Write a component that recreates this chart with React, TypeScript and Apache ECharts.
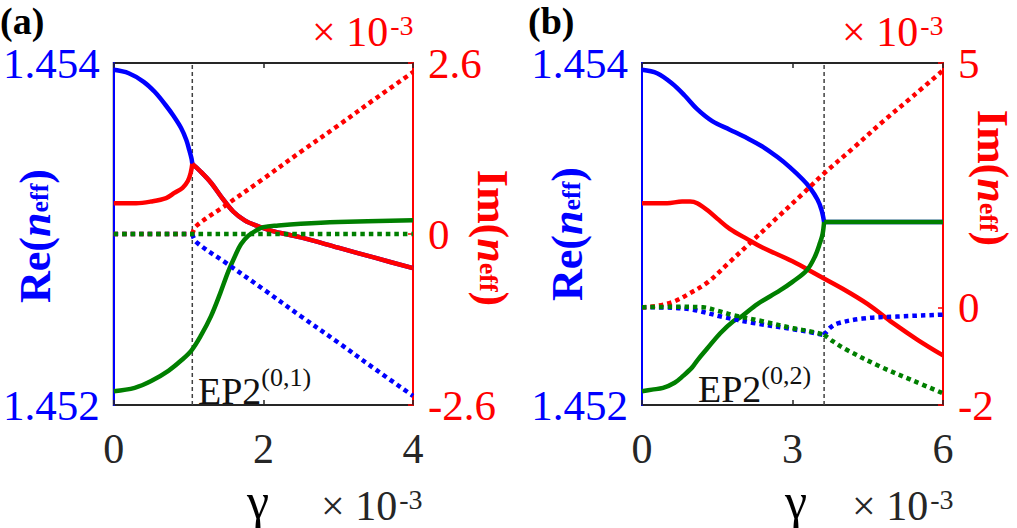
import React, { useEffect, useRef } from 'react';
import * as echarts from 'echarts';

const BLUE = '#0000ff';
const RED = '#ff0000';
const GREEN = '#007f00';
const INK = '#262626';
const SERIF = 'Liberation Serif';

// γ is given in units of 1e-3 on both x axes
const aGammaMax = 4;
const aGammaStep = 2;
const bGammaMax = 6;
const bGammaStep = 3;
const reTicks = [1.452, 1.454];
const aImTicks = [-2.6, 0, 2.6];
const bImTicks = [-2, 0, 5];

// ---- panel (a): EP2(0,1) ----
const aEP = 1.05;
const aBlueRe = [[0, 1.45396], [0.2, 1.45394], [0.4, 1.45389], [0.55, 1.45383], [0.7, 1.45375], [0.8, 1.45369], [0.9, 1.45362], [0.97, 1.45355], [1.01, 1.45349], [1.04, 1.45344], [1.05, 1.45341]];
const aRedRe = [[0, 1.45318], [0.3, 1.45318], [0.5, 1.45319], [0.7, 1.45321], [0.81, 1.45324], [0.92, 1.45327], [0.99, 1.45331], [1.03, 1.45336], [1.05, 1.45341]];
const aPairRe = [[1.05, 1.45341], [1.15, 1.45337], [1.3, 1.4533], [1.45, 1.45321], [1.6, 1.45313], [1.75, 1.45308], [1.9, 1.45305], [2.1, 1.45302], [2.5, 1.45298], [3, 1.45292], [3.5, 1.45286], [4, 1.4528]];
const aGreenRe = [[0, 1.45208], [0.28, 1.4521], [0.5, 1.45214], [0.73, 1.4522], [0.9, 1.45226], [1.04, 1.45232], [1.17, 1.45241], [1.3, 1.45252], [1.42, 1.45265], [1.53, 1.45278], [1.62, 1.45287], [1.7, 1.45294], [1.8, 1.45299], [1.9, 1.45302], [2.0, 1.45304], [2.2, 1.45305], [2.5, 1.45306], [3, 1.45307], [4, 1.45308]];
const aPairImBefore = [[0, 0], [1.05, 0]];
const aRedImAfter = [[1.05, 0], [1.1, 0.12], [1.5, 0.44], [2, 0.84], [2.5, 1.25], [3, 1.65], [3.5, 2.06], [4, 2.46]];
const aBlueImAfter = [[1.05, 0], [1.1, -0.12], [1.5, -0.44], [2, -0.84], [2.5, -1.25], [3, -1.65], [3.5, -2.06], [4, -2.46]];
const aGreenIm = [[0, 0], [4, 0]];

// ---- panel (b): EP2(0,2) ----
const bEP = 3.63;
const bBlueRe = [[0, 1.45396], [0.3, 1.45394], [0.6, 1.45388], [0.85, 1.45381], [1.1, 1.45373], [1.4, 1.45366], [1.75, 1.45361], [2.1, 1.45356], [2.41, 1.45351], [2.7, 1.45345], [2.95, 1.45339], [3.2, 1.45332], [3.35, 1.45327], [3.5, 1.4532], [3.58, 1.45314], [3.63, 1.45307]];
const bGreenRe = [[0, 1.45208], [0.2, 1.45209], [0.42, 1.4521], [0.65, 1.45213], [0.82, 1.45217], [1.0, 1.45222], [1.1, 1.45226], [1.3, 1.45233], [1.56, 1.45242], [1.82, 1.45249], [1.95, 1.45251], [2.3, 1.45259], [2.75, 1.45267], [3.0, 1.45272], [3.29, 1.45279], [3.45, 1.45287], [3.55, 1.45295], [3.6, 1.453], [3.63, 1.45307]];
const bPairRe = [[3.63, 1.45307], [4.2, 1.45307], [5, 1.45307], [6, 1.45307]];
const bRedRe = [[0, 1.45318], [0.5, 1.45318], [0.8, 1.45319], [0.96, 1.45319], [1.1, 1.45318], [1.3, 1.45314], [1.5, 1.45309], [1.75, 1.45303], [2.1, 1.45297], [2.41, 1.45292], [3.0, 1.45284], [3.5, 1.45276], [4.0, 1.45268], [4.5, 1.45259], [5.0, 1.45248], [5.5, 1.45238], [6.0, 1.45229]];
const bRedIm = [[0, 0], [0.3, 0.03], [0.62, 0.11], [0.96, 0.29], [1.32, 0.52], [1.72, 0.9], [2.2, 1.36], [2.7, 1.84], [3.2, 2.32], [3.63, 2.74], [4.2, 3.25], [4.8, 3.8], [5.4, 4.32], [6, 4.85]];
const bGreenImBefore = [[0, 0], [0.62, 0.01], [1.22, 0], [1.5, -0.07], [1.82, -0.16], [2.42, -0.29], [3.01, -0.43], [3.3, -0.48], [3.63, -0.56]];
const bGreenImAfter = [[3.63, -0.56], [3.81, -0.7], [4.08, -0.87], [4.74, -1.21], [5.4, -1.5], [6, -1.76]];
const bBlueImBefore = [[0, 0], [0.6, -0.01], [1.02, -0.05], [1.62, -0.2], [2.22, -0.32], [2.95, -0.44], [3.3, -0.5], [3.63, -0.57]];
const bBlueImAfter = [[3.63, -0.57], [3.75, -0.42], [3.9, -0.33], [4.4, -0.23], [5.08, -0.19], [6, -0.15]];

function curve(data: number[][], color: string, xi: number, yi: number, dotted = false) {
  return {
    type: 'line',
    xAxisIndex: xi,
    yAxisIndex: yi,
    data,
    symbol: 'none',
    showSymbol: false,
    silent: true,
    smooth: 0.35,
    lineStyle: { color, width: 4.5, type: dotted ? [4.5, 4] : 'solid', cap: 'butt', join: 'round' },
  };
}

function epLine(ep: number, xi: number, yi: number) {
  return {
    type: 'line',
    xAxisIndex: xi,
    yAxisIndex: yi,
    data: [[ep, reTicks[0]], [ep, reTicks[1]]],
    symbol: 'none',
    silent: true,
    lineStyle: { color: '#404040', width: 1.5, type: [4, 3] },
  };
}

function gammaAxis(gridIndex: number, max: number, step: number, top = false) {
  return {
    type: 'value',
    gridIndex,
    min: 0,
    max,
    interval: step,
    position: top ? 'top' : 'bottom',
    axisLine: { show: false, onZero: false },
    axisTick: { show: true, inside: true, length: 5, lineStyle: { color: INK, width: 1.5 } },
    axisLabel: { show: !top, color: INK, fontSize: 42, fontFamily: SERIF, margin: 23 },
    splitLine: { show: false },
  };
}

function reAxis(gridIndex: number) {
  return {
    type: 'value',
    gridIndex,
    position: 'left',
    min: reTicks[0],
    max: reTicks[1],
    axisLine: { show: true, onZero: false, lineStyle: { color: BLUE, width: 2 } },
    axisTick: { show: false },
    splitLine: { show: false },
    axisLabel: {
      customValues: reTicks,
      formatter: (v: number) => v.toFixed(3),
      color: BLUE,
      fontSize: 43,
      fontFamily: SERIF,
      margin: 14,
      padding: [10, 0, 0, 0],
    },
  };
}

function imAxis(gridIndex: number, ticks: number[]) {
  return {
    type: 'value',
    gridIndex,
    position: 'right',
    min: ticks[0],
    max: ticks[ticks.length - 1],
    axisLine: { show: true, onZero: false, lineStyle: { color: RED, width: 2 } },
    axisTick: { show: true, inside: true, length: 5, customValues: ticks, lineStyle: { color: RED, width: 1.5 } },
    splitLine: { show: false },
    axisLabel: {
      customValues: ticks,
      formatter: (v: number) => String(v),
      color: RED,
      fontSize: 43,
      fontFamily: SERIF,
      margin: 15,
      padding: [10, 0, 0, 0],
    },
  };
}

function text(x: number, y: number, content: string, rich: any, extra: any = {}) {
  return {
    type: 'text',
    x,
    y,
    rotation: extra.rotation || 0,
    silent: true,
    z: 100,
    style: {
      text: content,
      rich,
      fontFamily: SERIF,
      fontSize: 40,
      fill: extra.fill || INK,
      align: extra.align || 'left',
      verticalAlign: extra.verticalAlign || 'top',
    },
  };
}

function exponentLabel(x: number, y: number, fill: string) {
  return text(x, y, '{m|× 10}{s|-3}', {
    m: { fontSize: 42, fontFamily: SERIF, fill, lineHeight: 42, verticalAlign: 'bottom' },
    s: { fontSize: 28, fontFamily: SERIF, fill, lineHeight: 14, verticalAlign: 'top', padding: [0, 0, 0, 2] },
  }, { fill });
}

function neffLabel(x: number, y: number, head: string, fill: string, rotation: number) {
  return text(x, y, `{a|${head}(}{n|n}{s|eff}{a|)}`, {
    a: { fontSize: 44, fontFamily: SERIF, fontWeight: 'bold', fill, lineHeight: 34 },
    n: { fontSize: 44, fontFamily: SERIF, fontWeight: 'bold', fontStyle: 'italic', fill, lineHeight: 34 },
    s: { fontSize: 26, fontFamily: SERIF, fontWeight: 'bold', fill, lineHeight: 10, verticalAlign: 'bottom' },
  }, { fill, rotation, align: 'center', verticalAlign: 'middle' });
}

function epLabel(x: number, y: number, sup: string) {
  return text(x, y, `{m|EP2}{s|${sup}}`, {
    m: { fontSize: 38, fontFamily: SERIF, fill: '#111', lineHeight: 46, verticalAlign: 'bottom' },
    s: { fontSize: 26, fontFamily: SERIF, fill: '#111', lineHeight: 26, verticalAlign: 'top' },
  });
}

function plain(x: number, y: number, content: string, size: number, bold: boolean, align = 'left', lineHeight = size) {
  return text(x, y, `{t|${content}}`, {
    t: { fontSize: size, fontFamily: SERIF, fontWeight: bold ? 'bold' : 'normal', fill: '#000', lineHeight },
  }, { align, verticalAlign: 'middle' });
}

export default function App() {
  const ref = useRef<HTMLDivElement>(null);

  useEffect(() => {
    if (!ref.current) return;
    const chart = echarts.init(ref.current, undefined, { renderer: 'svg' });
    const gridBox = { top: 63, width: 301, height: 342, show: true, borderColor: INK, borderWidth: 2, backgroundColor: 'transparent' };

    const option = {
      animation: false,
      backgroundColor: '#ffffff',
      textStyle: { fontFamily: SERIF },
      grid: [
        { ...gridBox, left: 112 },
        { ...gridBox, left: 642 },
      ],
      xAxis: [
        gammaAxis(0, aGammaMax, aGammaStep),
        gammaAxis(1, bGammaMax, bGammaStep),
        gammaAxis(0, aGammaMax, aGammaStep, true),
        gammaAxis(1, bGammaMax, bGammaStep, true),
      ],
      yAxis: [reAxis(0), imAxis(0, aImTicks), reAxis(1), imAxis(1, bImTicks)],
      series: [
        // panel (a)
        epLine(aEP, 0, 0),
        curve(aBlueRe, BLUE, 0, 0),
        curve(aPairRe, BLUE, 0, 0),
        curve(aRedRe, RED, 0, 0),
        curve(aPairRe, RED, 0, 0),
        curve(aGreenRe, GREEN, 0, 0),
        curve(aPairImBefore, BLUE, 0, 1, true),
        curve(aBlueImAfter, BLUE, 0, 1, true),
        curve(aPairImBefore, RED, 0, 1, true),
        curve(aRedImAfter, RED, 0, 1, true),
        curve(aGreenIm, GREEN, 0, 1, true),
        // panel (b)
        epLine(bEP, 1, 2),
        curve(bBlueRe, BLUE, 1, 2),
        curve(bPairRe, BLUE, 1, 2),
        curve(bRedRe, RED, 1, 2),
        curve(bGreenRe, GREEN, 1, 2),
        curve(bPairRe, GREEN, 1, 2),
        curve(bBlueImBefore, BLUE, 1, 3, true),
        curve(bBlueImAfter, BLUE, 1, 3, true),
        curve(bRedIm, RED, 1, 3, true),
        curve(bGreenImBefore, GREEN, 1, 3, true),
        curve(bGreenImAfter, GREEN, 1, 3, true),
      ],
      graphic: [
        plain(0, 21, '(a)', 38, true, 'left', 36),
        plain(528, 21, '(b)', 38, true, 'left', 36),
        exponentLabel(312, 11, RED),
        exponentLabel(842, 11, RED),
        exponentLabel(321, 485, INK),
        exponentLabel(852, 485, INK),
        plain(258, 501, 'γ', 50, false, 'center', 34),
        plain(796, 501, 'γ', 50, false, 'center', 34),
        neffLabel(35, 236, 'Re', BLUE, Math.PI / 2),
        neffLabel(567, 234, 'Re', BLUE, Math.PI / 2),
        neffLabel(492, 238, 'Im', RED, -Math.PI / 2),
        neffLabel(992, 178, 'Im', RED, -Math.PI / 2),
        epLabel(198, 364, '(0,1)'),
        epLabel(698, 362, '(0,2)'),
      ],
    };

    chart.setOption(option as any);
    return () => chart.dispose();
  }, []);

  return (
    <div
      ref={ref}
      style={{ position: 'absolute', left: 0, top: 0, width: 1017, height: 528, background: '#fff' }}
    />
  );
}
